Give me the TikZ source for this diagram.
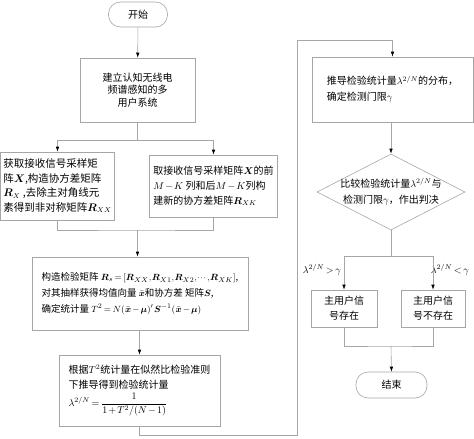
\documentclass[tikz,border=0pt]{standalone}
\usepackage{amsmath}
\usepackage{amssymb}
\usepackage{fontspec}
\newfontfamily\cjk{Noto Sans CJK SC}
\usetikzlibrary{arrows.meta,shapes.geometric}
\thinmuskip=1mu
\medmuskip=2mu plus 1mu
\thickmuskip=3mu plus 2mu

\tikzset{
  box/.style={draw=gray!70,line width=0.6pt,inner xsep=4pt,inner ysep=0pt,font=\cjk\fontsize{10}{15}\selectfont},
  term/.style={box,rounded corners=12pt},
  dia/.style={draw=gray!70,line width=0.6pt,shape=diamond,inner sep=0pt,minimum width=148pt,minimum height=76pt},
  line/.style={draw=gray!70,line width=0.6pt},
  arr/.style={line,-{Latex[length=5pt,width=3.5pt,color=black]}},
}

\begin{document}
\begin{tikzpicture}[x=1pt,y=-1pt]
  \useasboundingbox (0,0) rectangle (474,439);
  % left column
  \node[term,minimum width=59pt,minimum height=25pt] (start) at (138,14.5) {开始};
  \node[box,minimum width=115pt,minimum height=64pt,align=center,font=\cjk\fontsize{10}{12.5}\selectfont] (sys) at (137.5,90) {建立认知无线电\\频谱感知的多\\用户系统};
  \node[box,minimum width=111pt,minimum height=68pt,align=left,inner xsep=3pt,font=\cjk\fontsize{10.5}{14.5}\selectfont] (rxx) at (57.5,186) {获取接收信号采样矩\\阵$\boldsymbol{X}$,构造协方差矩阵\\$\boldsymbol{R}_X$ ,去除主对角线元\\素得到非对称矩阵$\boldsymbol{R}_{XX}$};
  \node[box,minimum width=127pt,minimum height=62pt,align=left] (rxk) at (213.5,186) {取接收信号采样矩阵$\boldsymbol{X}$的前\\$M-K$ 列和后$M-K$列构\\建新的协方差矩阵$\boldsymbol{R}_{XK}$};
  \node[box,minimum width=216pt,minimum height=73pt,align=left,font=\cjk\fontsize{9.5}{16}\selectfont] (rs) at (140,293.5) {构造检验矩阵 $\boldsymbol{R}_s=[\boldsymbol{R}_{XX},\boldsymbol{R}_{X1},\boldsymbol{R}_{X2},\cdots,\boldsymbol{R}_{XK}]$,\\对其抽样获得均值向量 $\bar{\boldsymbol{x}}$和协方差 矩阵$\boldsymbol{S}$,\\确定统计量 $T^2=N(\,\bar{\boldsymbol{x}}-\boldsymbol{\mu})'\,\boldsymbol{S}^{-1}(\,\bar{\boldsymbol{x}}-\boldsymbol{\mu})$};
  \node[box,minimum width=161pt,minimum height=71pt,align=left] (lam) at (139.5,390.5) {根据$T^2$统计量在似然比检验准则\\下推导得到检验统计量\\[3pt]$\lambda^{2/N}=\dfrac{1}{1+T^2/(N-1)}$};
  % right column
  \node[box,minimum width=161pt,minimum height=65pt,align=left,font=\cjk\fontsize{10}{16}\selectfont] (dist) at (392.5,89.5) {推导检验统计量$\lambda^{2/N}$的分布，\\确定检测门限$\gamma$};
  \node[dia] (cmp) at (391,192) {};
  \node[align=center,font=\cjk\fontsize{10}{16}\selectfont] (cmpt) at (cmp) {比较检验统计量$\lambda^{2/N}$与\\检测门限$\gamma$，作出判决};
  \node[box,minimum width=66pt,minimum height=37pt,align=center] (yes) at (344,308.5) {主用户信\\号存在};
  \node[box,minimum width=64pt,minimum height=37pt,align=center] (no) at (433,308.5) {主用户信\\号不存在};
  \node[term,minimum width=71pt,minimum height=26pt] (stop) at (391.5,385) {结束};
  \node (gt) at (322,270) {$\lambda^{2/N}>\gamma$};
  \node (lt) at (450,270) {$\lambda^{2/N}<\gamma$};
  % connectors
  \coordinate (s1) at (137.5,140);
  \coordinate (m1) at (137.5,230);
  \coordinate (c1) at (297,435);
  \coordinate (c2) at (297,40);
  \coordinate (s2) at (391,256);
  \coordinate (m2) at (391,346);
  \draw[arr] (start) -- (sys);
  \draw[line] (sys) -- (s1);
  \draw[arr] (s1) -| (rxx.north);
  \draw[arr] (s1) -| (rxk.north);
  \draw[line] (rxx.south) |- (m1) -| (rxk.south);
  \draw[arr] (m1) -- (m1 |- rs.north);
  \draw[arr] (rs.south -| lam.north) -- (lam.north);
  \draw[arr] (lam.south) |- (c1) -- (c2) -| (dist.north);
  \draw[arr] (dist.south -| cmp.north) -- (cmp.north);
  \draw[line] (cmp.south) -- (s2);
  \draw[arr] (s2) -| (yes.north);
  \draw[arr] (s2) -| (no.north);
  \draw[line] (yes.south) |- (m2) -| (no.south);
  \draw[arr] (m2) -- (stop.north);
\end{tikzpicture}
\end{document}
